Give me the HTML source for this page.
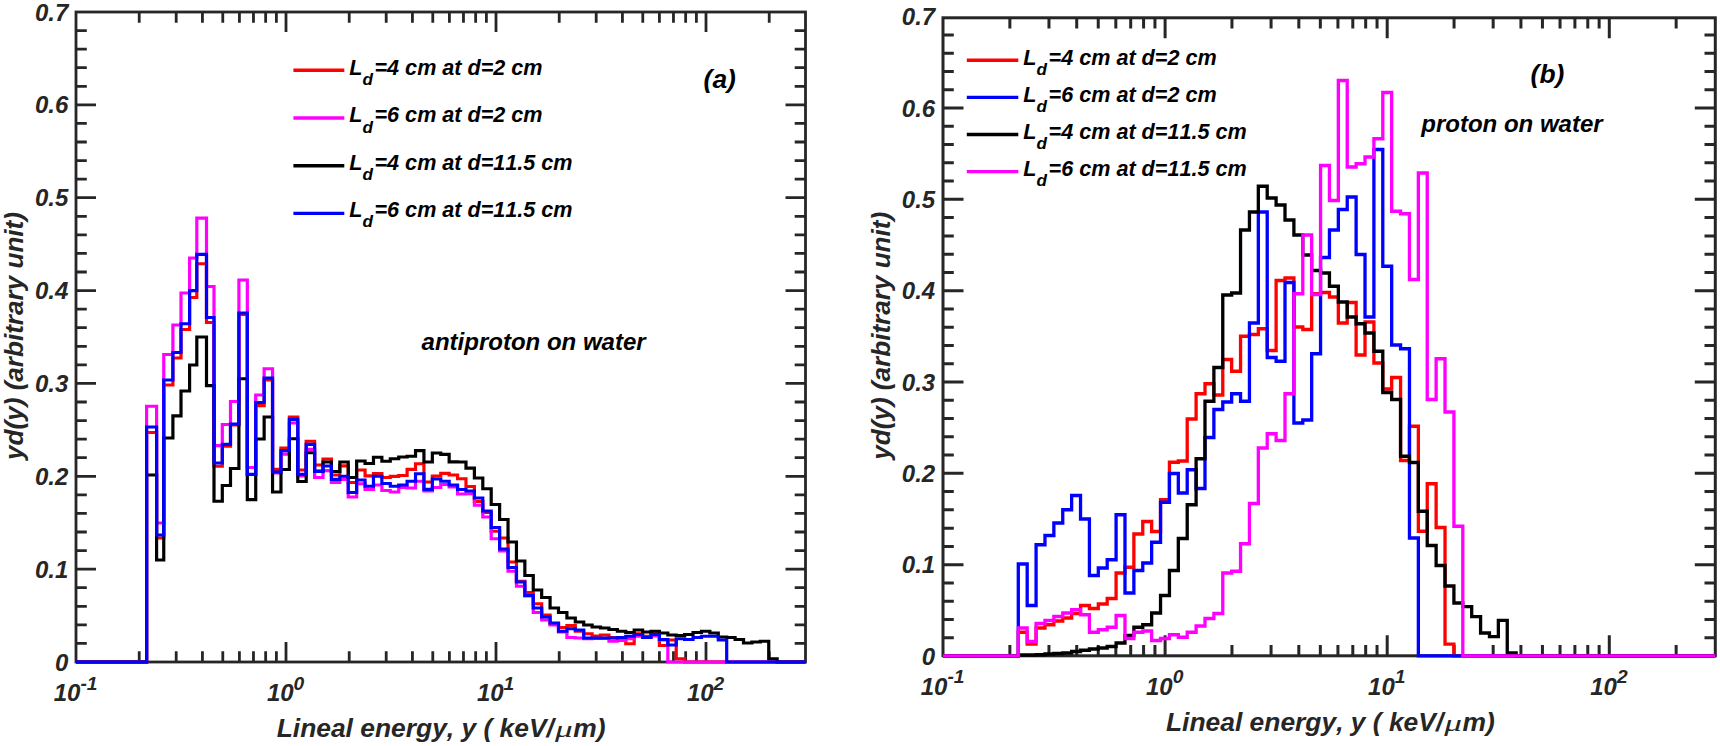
<!DOCTYPE html>
<html><head><meta charset="utf-8"><title>Lineal energy spectra</title>
<style>html,body{margin:0;padding:0;background:#fff}svg{display:block}text{font-family:"Liberation Sans", Arial, Helvetica, sans-serif;font-weight:bold;font-style:italic;font-kerning:none}</style></head><body>
<svg width="1720" height="746" viewBox="0 0 1720 746">
<rect width="1720" height="746" fill="#fff"/>
<rect x="76.00" y="12.00" width="729.50" height="650.00" fill="none" stroke="#262626" stroke-width="2.80"/>
<path d="M139.22 662.00v-10.80M139.22 12.00v10.80M176.20 662.00v-10.80M176.20 12.00v10.80M202.43 662.00v-10.80M202.43 12.00v10.80M222.78 662.00v-10.80M222.78 12.00v10.80M239.41 662.00v-10.80M239.41 12.00v10.80M253.47 662.00v-10.80M253.47 12.00v10.80M265.65 662.00v-10.80M265.65 12.00v10.80M276.39 662.00v-10.80M276.39 12.00v10.80M286.00 662.00v-20.00M286.00 12.00v20.00M349.22 662.00v-10.80M349.22 12.00v10.80M386.20 662.00v-10.80M386.20 12.00v10.80M412.43 662.00v-10.80M412.43 12.00v10.80M432.78 662.00v-10.80M432.78 12.00v10.80M449.41 662.00v-10.80M449.41 12.00v10.80M463.47 662.00v-10.80M463.47 12.00v10.80M475.65 662.00v-10.80M475.65 12.00v10.80M486.39 662.00v-10.80M486.39 12.00v10.80M496.00 662.00v-20.00M496.00 12.00v20.00M559.22 662.00v-10.80M559.22 12.00v10.80M596.20 662.00v-10.80M596.20 12.00v10.80M622.43 662.00v-10.80M622.43 12.00v10.80M642.78 662.00v-10.80M642.78 12.00v10.80M659.41 662.00v-10.80M659.41 12.00v10.80M673.47 662.00v-10.80M673.47 12.00v10.80M685.65 662.00v-10.80M685.65 12.00v10.80M696.39 662.00v-10.80M696.39 12.00v10.80M706.00 662.00v-20.00M706.00 12.00v20.00M769.22 662.00v-10.80M769.22 12.00v10.80M76.00 643.43h10.80M805.50 643.43h-10.80M76.00 624.86h10.80M805.50 624.86h-10.80M76.00 606.29h10.80M805.50 606.29h-10.80M76.00 587.71h10.80M805.50 587.71h-10.80M76.00 569.14h20.00M805.50 569.14h-20.00M76.00 550.57h10.80M805.50 550.57h-10.80M76.00 532.00h10.80M805.50 532.00h-10.80M76.00 513.43h10.80M805.50 513.43h-10.80M76.00 494.86h10.80M805.50 494.86h-10.80M76.00 476.29h20.00M805.50 476.29h-20.00M76.00 457.71h10.80M805.50 457.71h-10.80M76.00 439.14h10.80M805.50 439.14h-10.80M76.00 420.57h10.80M805.50 420.57h-10.80M76.00 402.00h10.80M805.50 402.00h-10.80M76.00 383.43h20.00M805.50 383.43h-20.00M76.00 364.86h10.80M805.50 364.86h-10.80M76.00 346.29h10.80M805.50 346.29h-10.80M76.00 327.71h10.80M805.50 327.71h-10.80M76.00 309.14h10.80M805.50 309.14h-10.80M76.00 290.57h20.00M805.50 290.57h-20.00M76.00 272.00h10.80M805.50 272.00h-10.80M76.00 253.43h10.80M805.50 253.43h-10.80M76.00 234.86h10.80M805.50 234.86h-10.80M76.00 216.29h10.80M805.50 216.29h-10.80M76.00 197.71h20.00M805.50 197.71h-20.00M76.00 179.14h10.80M805.50 179.14h-10.80M76.00 160.57h10.80M805.50 160.57h-10.80M76.00 142.00h10.80M805.50 142.00h-10.80M76.00 123.43h10.80M805.50 123.43h-10.80M76.00 104.86h20.00M805.50 104.86h-20.00M76.00 86.29h10.80M805.50 86.29h-10.80M76.00 67.71h10.80M805.50 67.71h-10.80M76.00 49.14h10.80M805.50 49.14h-10.80M76.00 30.57h10.80M805.50 30.57h-10.80" stroke="#262626" stroke-width="2.80" fill="none"/>
<polyline points="76.00,662.00 146.60,662.00 146.60,432.50 156.60,432.50 156.60,538.00 163.75,538.00 163.75,385.00 172.90,385.00 172.90,358.00 181.00,358.00 181.00,329.50 189.60,329.50 189.60,297.50 196.80,297.50 196.80,263.75 206.50,263.75 206.50,322.50 214.00,322.50 214.00,466.25 222.30,466.25 222.30,446.25 230.50,446.25 230.50,425.00 238.91,425.00 238.91,314.50 247.32,314.50 247.32,474.50 255.73,474.50 255.73,405.60 264.14,405.60 264.14,380.00 272.55,380.00 272.55,469.40 280.96,469.40 280.96,448.00 289.37,448.00 289.37,417.00 297.78,417.00 297.78,470.00 306.19,470.00 306.19,441.25 314.60,441.25 314.60,465.00 323.01,465.00 323.01,459.00 331.42,459.00 331.42,475.00 339.83,475.00 339.83,465.80 348.24,465.80 348.24,482.50 356.65,482.50 356.65,470.00 365.06,470.00 365.06,475.80 373.47,475.80 373.47,473.50 381.88,473.50 381.88,477.50 390.29,477.50 390.29,476.40 398.70,476.40 398.70,475.50 407.11,475.50 407.11,469.40 415.52,469.40 415.52,463.75 423.93,463.75 423.93,482.00 432.34,482.00 432.34,476.00 440.75,476.00 440.75,473.40 449.16,473.40 449.16,475.00 457.57,475.00 457.57,478.75 465.98,478.75 465.98,486.50 474.39,486.50 474.39,501.50 482.80,501.50 482.80,512.50 491.21,512.50 491.21,531.25 499.62,531.25 499.62,538.00 508.03,538.00 508.03,562.00 516.44,562.00 516.44,581.25 524.85,581.25 524.85,592.50 533.26,592.50 533.26,603.75 541.67,603.75 541.67,615.00 550.08,615.00 550.08,623.75 558.49,623.75 558.49,627.50 566.90,627.50 566.90,625.50 575.31,625.50 575.31,631.25 583.72,631.25 583.72,633.75 592.13,633.75 592.13,636.00 600.54,636.00 600.54,635.00 608.95,635.00 608.95,637.50 617.36,637.50 617.36,640.00 625.77,640.00 625.77,643.75 634.18,643.75 634.18,633.75 642.59,633.75 642.59,636.25 651.00,636.25 651.00,633.75 659.41,633.75 659.41,645.50 667.82,645.50 667.82,640.00 676.23,640.00 676.23,658.75 684.64,658.75 684.64,662.00 805.50,662.00" fill="none" stroke="#ff0000" stroke-width="3.20" stroke-linejoin="miter" stroke-linecap="butt"/>
<polyline points="76.00,662.00 146.60,662.00 146.60,406.25 156.60,406.25 156.60,523.00 163.75,523.00 163.75,354.50 172.90,354.50 172.90,325.00 181.00,325.00 181.00,293.00 189.60,293.00 189.60,258.00 196.80,258.00 196.80,218.10 206.50,218.10 206.50,286.50 214.00,286.50 214.00,445.60 222.30,445.60 222.30,424.50 230.50,424.50 230.50,401.50 238.91,401.50 238.91,280.00 247.32,280.00 247.32,467.50 255.73,467.50 255.73,395.00 264.14,395.00 264.14,368.75 272.55,368.75 272.55,473.00 280.96,473.00 280.96,454.20 289.37,454.20 289.37,423.00 297.78,423.00 297.78,476.00 306.19,476.00 306.19,449.40 314.60,449.40 314.60,477.50 323.01,477.50 323.01,470.60 331.42,470.60 331.42,482.50 339.83,482.50 339.83,479.40 348.24,479.40 348.24,497.00 356.65,497.00 356.65,483.75 365.06,483.75 365.06,489.40 373.47,489.40 373.47,485.00 381.88,485.00 381.88,490.50 390.29,490.50 390.29,492.00 398.70,492.00 398.70,487.50 407.11,487.50 407.11,488.00 415.52,488.00 415.52,481.25 423.93,481.25 423.93,491.00 432.34,491.00 432.34,487.50 440.75,487.50 440.75,484.50 449.16,484.50 449.16,487.00 457.57,487.00 457.57,494.00 465.98,494.00 465.98,493.75 474.39,493.75 474.39,505.25 482.80,505.25 482.80,517.00 491.21,517.00 491.21,538.75 499.62,538.75 499.62,551.00 508.03,551.00 508.03,571.25 516.44,571.25 516.44,586.25 524.85,586.25 524.85,596.00 533.26,596.00 533.26,612.50 541.67,612.50 541.67,620.00 550.08,620.00 550.08,625.00 558.49,625.00 558.49,632.00 566.90,632.00 566.90,637.50 575.31,637.50 575.31,638.00 583.72,638.00 583.72,638.75 592.13,638.75 592.13,638.50 600.54,638.50 600.54,638.50 608.95,638.50 608.95,641.25 617.36,641.25 617.36,640.50 625.77,640.50 625.77,638.75 634.18,638.75 634.18,636.25 642.59,636.25 642.59,637.50 651.00,637.50 651.00,636.00 659.41,636.00 659.41,640.00 667.82,640.00 667.82,662.00 805.50,662.00" fill="none" stroke="#ff00ff" stroke-width="3.20" stroke-linejoin="miter" stroke-linecap="butt"/>
<polyline points="76.00,662.00 146.60,662.00 146.60,475.00 156.60,475.00 156.60,560.00 163.75,560.00 163.75,438.00 172.90,438.00 172.90,415.80 181.00,415.80 181.00,391.00 189.60,391.00 189.60,365.00 196.80,365.00 196.80,337.00 206.50,337.00 206.50,385.60 214.00,385.60 214.00,501.25 222.30,501.25 222.30,485.50 230.50,485.50 230.50,468.50 238.91,468.50 238.91,378.75 247.32,378.75 247.32,499.60 255.73,499.60 255.73,439.00 264.14,439.00 264.14,417.00 272.55,417.00 272.55,492.00 280.96,492.00 280.96,469.50 289.37,469.50 289.37,438.75 297.78,438.75 297.78,481.50 306.19,481.50 306.19,452.75 314.60,452.75 314.60,471.00 323.01,471.00 323.01,462.00 331.42,462.00 331.42,471.50 339.83,471.50 339.83,462.00 348.24,462.00 348.24,477.50 356.65,477.50 356.65,461.00 365.06,461.00 365.06,463.50 373.47,463.50 373.47,457.25 381.88,457.25 381.88,461.25 390.29,461.25 390.29,458.75 398.70,458.75 398.70,457.00 407.11,457.00 407.11,456.25 415.52,456.25 415.52,450.60 423.93,450.60 423.93,462.00 432.34,462.00 432.34,453.00 440.75,453.00 440.75,454.40 449.16,454.40 449.16,461.90 457.57,461.90 457.57,462.00 465.98,462.00 465.98,468.20 474.39,468.20 474.39,478.00 482.80,478.00 482.80,488.75 491.21,488.75 491.21,504.50 499.62,504.50 499.62,519.50 508.03,519.50 508.03,542.00 516.44,542.00 516.44,561.00 524.85,561.00 524.85,575.50 533.26,575.50 533.26,590.00 541.67,590.00 541.67,597.50 550.08,597.50 550.08,608.00 558.49,608.00 558.49,612.50 566.90,612.50 566.90,618.00 575.31,618.00 575.31,622.00 583.72,622.00 583.72,625.00 592.13,625.00 592.13,627.00 600.54,627.00 600.54,628.00 608.95,628.00 608.95,629.50 617.36,629.50 617.36,631.25 625.77,631.25 625.77,632.50 634.18,632.50 634.18,630.00 642.59,630.00 642.59,632.00 651.00,632.00 651.00,631.25 659.41,631.25 659.41,633.00 667.82,633.00 667.82,635.00 676.23,635.00 676.23,635.50 684.64,635.50 684.64,634.50 693.05,634.50 693.05,632.50 701.46,632.50 701.46,631.25 709.87,631.25 709.87,633.00 718.28,633.00 718.28,637.00 726.69,637.00 726.69,637.50 735.10,637.50 735.10,639.50 743.51,639.50 743.51,643.00 751.92,643.00 751.92,642.00 760.33,642.00 760.33,641.25 768.74,641.25 768.74,658.75 777.15,658.75 777.15,662.00 805.50,662.00" fill="none" stroke="#000000" stroke-width="3.20" stroke-linejoin="miter" stroke-linecap="butt"/>
<polyline points="76.00,662.00 146.60,662.00 146.60,427.00 156.60,427.00 156.60,535.00 163.75,535.00 163.75,380.00 172.90,380.00 172.90,352.50 181.00,352.50 181.00,323.75 189.60,323.75 189.60,290.60 196.80,290.60 196.80,254.40 206.50,254.40 206.50,317.50 214.00,317.50 214.00,463.00 222.30,463.00 222.30,444.40 230.50,444.40 230.50,424.00 238.91,424.00 238.91,313.00 247.32,313.00 247.32,474.40 255.73,474.40 255.73,402.50 264.14,402.50 264.14,378.00 272.55,378.00 272.55,472.00 280.96,472.00 280.96,450.60 289.37,450.60 289.37,419.40 297.78,419.40 297.78,474.40 306.19,474.40 306.19,444.40 314.60,444.40 314.60,471.50 323.01,471.50 323.01,466.00 331.42,466.00 331.42,479.40 339.83,479.40 339.83,476.25 348.24,476.25 348.24,492.50 356.65,492.50 356.65,480.00 365.06,480.00 365.06,486.25 373.47,486.25 373.47,476.25 381.88,476.25 381.88,483.50 390.29,483.50 390.29,486.25 398.70,486.25 398.70,485.00 407.11,485.00 407.11,481.25 415.52,481.25 415.52,473.75 423.93,473.75 423.93,489.40 432.34,489.40 432.34,479.00 440.75,479.00 440.75,481.25 449.16,481.25 449.16,485.00 457.57,485.00 457.57,489.50 465.98,489.50 465.98,491.00 474.39,491.00 474.39,498.00 482.80,498.00 482.80,511.00 491.21,511.00 491.21,527.50 499.62,527.50 499.62,549.00 508.03,549.00 508.03,567.50 516.44,567.50 516.44,582.00 524.85,582.00 524.85,595.50 533.26,595.50 533.26,608.00 541.67,608.00 541.67,617.00 550.08,617.00 550.08,623.00 558.49,623.00 558.49,631.25 566.90,631.25 566.90,628.75 575.31,628.75 575.31,630.00 583.72,630.00 583.72,638.00 592.13,638.00 592.13,638.00 600.54,638.00 600.54,638.00 608.95,638.00 608.95,638.00 617.36,638.00 617.36,637.50 625.77,637.50 625.77,636.25 634.18,636.25 634.18,634.50 642.59,634.50 642.59,637.50 651.00,637.50 651.00,634.50 659.41,634.50 659.41,639.50 667.82,639.50 667.82,645.00 676.23,645.00 676.23,638.75 684.64,638.75 684.64,639.50 693.05,639.50 693.05,637.50 701.46,637.50 701.46,636.25 709.87,636.25 709.87,636.25 718.28,636.25 718.28,640.00 726.69,640.00 726.69,662.00 805.50,662.00" fill="none" stroke="#0000ff" stroke-width="3.20" stroke-linejoin="miter" stroke-linecap="butt"/>
<text x="68.40" y="670.60" font-size="24.0" text-anchor="end" fill="#262626">0</text>
<text x="68.40" y="577.74" font-size="24.0" text-anchor="end" fill="#262626">0.1</text>
<text x="68.40" y="484.89" font-size="24.0" text-anchor="end" fill="#262626">0.2</text>
<text x="68.40" y="392.03" font-size="24.0" text-anchor="end" fill="#262626">0.3</text>
<text x="68.40" y="299.17" font-size="24.0" text-anchor="end" fill="#262626">0.4</text>
<text x="68.40" y="206.31" font-size="24.0" text-anchor="end" fill="#262626">0.5</text>
<text x="68.40" y="113.46" font-size="24.0" text-anchor="end" fill="#262626">0.6</text>
<text x="68.40" y="20.60" font-size="24.0" text-anchor="end" fill="#262626">0.7</text>
<text x="53.72" y="701.30" font-size="24.0" fill="#262626">10<tspan font-size="19.2" dy="-11.7">-1</tspan></text>
<text x="266.92" y="701.30" font-size="24.0" fill="#262626">10<tspan font-size="19.2" dy="-11.7">0</tspan></text>
<text x="476.92" y="701.30" font-size="24.0" fill="#262626">10<tspan font-size="19.2" dy="-11.7">1</tspan></text>
<text x="686.92" y="701.30" font-size="24.0" fill="#262626">10<tspan font-size="19.2" dy="-11.7">2</tspan></text>
<text x="276.70" y="736.90" font-size="26.4" fill="#262626">Lineal energy, y ( keV/</text>
<text transform="translate(555.00 736.90) scale(1.5 1)" style="font-family:'Liberation Serif','DejaVu Serif',serif;font-weight:normal" font-size="23.5" fill="#262626">μ</text>
<text x="573.30" y="736.90" font-size="26.4" fill="#262626">m)</text>
<text transform="translate(23.00 336.00) rotate(-90)" font-size="26.1" text-anchor="middle" fill="#262626">yd(y) (arbitrary unit)</text>
<rect x="943.00" y="17.80" width="772.30" height="638.00" fill="none" stroke="#262626" stroke-width="3.00"/>
<path d="M1009.86 655.80v-10.80M1009.86 17.80v10.80M1048.97 655.80v-10.80M1048.97 17.80v10.80M1076.72 655.80v-10.80M1076.72 17.80v10.80M1098.24 655.80v-10.80M1098.24 17.80v10.80M1115.83 655.80v-10.80M1115.83 17.80v10.80M1130.70 655.80v-10.80M1130.70 17.80v10.80M1143.58 655.80v-10.80M1143.58 17.80v10.80M1154.94 655.80v-10.80M1154.94 17.80v10.80M1165.10 655.80v-20.50M1165.10 17.80v20.50M1231.96 655.80v-10.80M1231.96 17.80v10.80M1271.07 655.80v-10.80M1271.07 17.80v10.80M1298.82 655.80v-10.80M1298.82 17.80v10.80M1320.34 655.80v-10.80M1320.34 17.80v10.80M1337.93 655.80v-10.80M1337.93 17.80v10.80M1352.80 655.80v-10.80M1352.80 17.80v10.80M1365.68 655.80v-10.80M1365.68 17.80v10.80M1377.04 655.80v-10.80M1377.04 17.80v10.80M1387.20 655.80v-20.50M1387.20 17.80v20.50M1454.06 655.80v-10.80M1454.06 17.80v10.80M1493.17 655.80v-10.80M1493.17 17.80v10.80M1520.92 655.80v-10.80M1520.92 17.80v10.80M1542.44 655.80v-10.80M1542.44 17.80v10.80M1560.03 655.80v-10.80M1560.03 17.80v10.80M1574.90 655.80v-10.80M1574.90 17.80v10.80M1587.78 655.80v-10.80M1587.78 17.80v10.80M1599.14 655.80v-10.80M1599.14 17.80v10.80M1609.30 655.80v-20.50M1609.30 17.80v20.50M1676.16 655.80v-10.80M1676.16 17.80v10.80M943.00 637.73h10.80M1715.30 637.73h-10.80M943.00 619.47h10.80M1715.30 619.47h-10.80M943.00 601.20h10.80M1715.30 601.20h-10.80M943.00 582.94h10.80M1715.30 582.94h-10.80M943.00 564.67h20.50M1715.30 564.67h-20.50M943.00 546.40h10.80M1715.30 546.40h-10.80M943.00 528.14h10.80M1715.30 528.14h-10.80M943.00 509.87h10.80M1715.30 509.87h-10.80M943.00 491.61h10.80M1715.30 491.61h-10.80M943.00 473.34h20.50M1715.30 473.34h-20.50M943.00 455.07h10.80M1715.30 455.07h-10.80M943.00 436.81h10.80M1715.30 436.81h-10.80M943.00 418.54h10.80M1715.30 418.54h-10.80M943.00 400.28h10.80M1715.30 400.28h-10.80M943.00 382.01h20.50M1715.30 382.01h-20.50M943.00 363.74h10.80M1715.30 363.74h-10.80M943.00 345.48h10.80M1715.30 345.48h-10.80M943.00 327.21h10.80M1715.30 327.21h-10.80M943.00 308.95h10.80M1715.30 308.95h-10.80M943.00 290.68h20.50M1715.30 290.68h-20.50M943.00 272.41h10.80M1715.30 272.41h-10.80M943.00 254.15h10.80M1715.30 254.15h-10.80M943.00 235.88h10.80M1715.30 235.88h-10.80M943.00 217.62h10.80M1715.30 217.62h-10.80M943.00 199.35h20.50M1715.30 199.35h-20.50M943.00 181.08h10.80M1715.30 181.08h-10.80M943.00 162.82h10.80M1715.30 162.82h-10.80M943.00 144.55h10.80M1715.30 144.55h-10.80M943.00 126.29h10.80M1715.30 126.29h-10.80M943.00 108.02h20.50M1715.30 108.02h-20.50M943.00 89.75h10.80M1715.30 89.75h-10.80M943.00 71.49h10.80M1715.30 71.49h-10.80M943.00 53.22h10.80M1715.30 53.22h-10.80M943.00 34.96h10.80M1715.30 34.96h-10.80" stroke="#262626" stroke-width="3.00" fill="none"/>
<polyline points="943.00,655.80 1018.30,655.80 1018.30,632.25 1027.19,632.25 1027.19,644.00 1036.08,644.00 1036.08,628.00 1044.97,628.00 1044.97,624.75 1053.86,624.75 1053.86,621.00 1062.75,621.00 1062.75,618.00 1071.64,618.00 1071.64,613.50 1080.53,613.50 1080.53,605.50 1089.42,605.50 1089.42,608.50 1098.31,608.50 1098.31,604.00 1107.20,604.00 1107.20,598.50 1116.09,598.50 1116.09,573.00 1124.98,573.00 1124.98,567.25 1133.87,567.25 1133.87,534.00 1142.76,534.00 1142.76,521.50 1151.65,521.50 1151.65,531.50 1160.54,531.50 1160.54,499.75 1169.43,499.75 1169.43,462.25 1178.32,462.25 1178.32,461.00 1187.21,461.00 1187.21,419.00 1196.10,419.00 1196.10,393.75 1204.99,393.75 1204.99,383.75 1213.88,383.75 1213.88,395.00 1222.77,395.00 1222.77,359.50 1231.66,359.50 1231.66,371.25 1240.55,371.25 1240.55,336.25 1249.44,336.25 1249.44,334.50 1258.33,334.50 1258.33,328.75 1267.22,328.75 1267.22,350.50 1276.11,350.50 1276.11,280.50 1285.00,280.50 1285.00,278.00 1293.89,278.00 1293.89,327.00 1302.78,327.00 1302.78,329.50 1311.67,329.50 1311.67,293.75 1320.56,293.75 1320.56,292.50 1329.45,292.50 1329.45,297.00 1338.34,297.00 1338.34,323.00 1347.23,323.00 1347.23,302.50 1356.12,302.50 1356.12,355.00 1365.01,355.00 1365.01,322.00 1373.90,322.00 1373.90,363.00 1382.79,363.00 1382.79,389.00 1391.68,389.00 1391.68,377.50 1400.57,377.50 1400.57,460.50 1409.46,460.50 1409.46,426.25 1418.35,426.25 1418.35,531.25 1427.24,531.25 1427.24,483.75 1436.13,483.75 1436.13,527.50 1445.02,527.50 1445.02,644.10 1453.91,644.10 1453.91,655.80 1715.30,655.80" fill="none" stroke="#ff0000" stroke-width="3.30" stroke-linejoin="miter" stroke-linecap="butt"/>
<polyline points="943.00,655.80 1018.30,655.80 1018.30,564.00 1027.19,564.00 1027.19,605.50 1036.08,605.50 1036.08,544.75 1044.97,544.75 1044.97,535.50 1053.86,535.50 1053.86,523.00 1062.75,523.00 1062.75,509.75 1071.64,509.75 1071.64,495.50 1080.53,495.50 1080.53,519.00 1089.42,519.00 1089.42,575.50 1098.31,575.50 1098.31,568.00 1107.20,568.00 1107.20,559.75 1116.09,559.75 1116.09,514.75 1124.98,514.75 1124.98,593.00 1133.87,593.00 1133.87,570.50 1142.76,570.50 1142.76,563.00 1151.65,563.00 1151.65,542.25 1160.54,542.25 1160.54,502.25 1169.43,502.25 1169.43,473.50 1178.32,473.50 1178.32,493.00 1187.21,493.00 1187.21,469.75 1196.10,469.75 1196.10,488.50 1204.99,488.50 1204.99,437.50 1213.88,437.50 1213.88,409.50 1222.77,409.50 1222.77,402.00 1231.66,402.00 1231.66,393.75 1240.55,393.75 1240.55,401.25 1249.44,401.25 1249.44,323.00 1258.33,323.00 1258.33,212.00 1267.22,212.00 1267.22,357.50 1276.11,357.50 1276.11,361.25 1285.00,361.25 1285.00,282.50 1293.89,282.50 1293.89,423.00 1302.78,423.00 1302.78,420.00 1311.67,420.00 1311.67,353.75 1320.56,353.75 1320.56,257.50 1329.45,257.50 1329.45,230.00 1338.34,230.00 1338.34,209.50 1347.23,209.50 1347.23,197.00 1356.12,197.00 1356.12,254.50 1365.01,254.50 1365.01,317.00 1373.90,317.00 1373.90,149.50 1382.79,149.50 1382.79,266.25 1391.68,266.25 1391.68,345.00 1400.57,345.00 1400.57,348.75 1409.46,348.75 1409.46,538.00 1418.35,538.00 1418.35,655.80 1715.30,655.80" fill="none" stroke="#0000ff" stroke-width="3.30" stroke-linejoin="miter" stroke-linecap="butt"/>
<polyline points="943.00,655.80 1018.30,655.80 1018.30,655.00 1027.19,655.00 1027.19,655.00 1036.08,655.00 1036.08,654.75 1044.97,654.75 1044.97,654.00 1053.86,654.00 1053.86,653.50 1062.75,653.50 1062.75,653.00 1071.64,653.00 1071.64,651.50 1080.53,651.50 1080.53,650.25 1089.42,650.25 1089.42,649.00 1098.31,649.00 1098.31,648.00 1107.20,648.00 1107.20,646.50 1116.09,646.50 1116.09,643.00 1124.98,643.00 1124.98,635.50 1133.87,635.50 1133.87,627.25 1142.76,627.25 1142.76,624.75 1151.65,624.75 1151.65,613.00 1160.54,613.00 1160.54,595.50 1169.43,595.50 1169.43,570.50 1178.32,570.50 1178.32,538.50 1187.21,538.50 1187.21,504.75 1196.10,504.75 1196.10,458.75 1204.99,458.75 1204.99,401.25 1213.88,401.25 1213.88,367.50 1222.77,367.50 1222.77,295.00 1231.66,295.00 1231.66,293.00 1240.55,293.00 1240.55,230.00 1249.44,230.00 1249.44,212.00 1258.33,212.00 1258.33,186.25 1267.22,186.25 1267.22,198.00 1276.11,198.00 1276.11,205.00 1285.00,205.00 1285.00,220.00 1293.89,220.00 1293.89,235.00 1302.78,235.00 1302.78,255.00 1311.67,255.00 1311.67,270.50 1320.56,270.50 1320.56,273.00 1329.45,273.00 1329.45,286.25 1338.34,286.25 1338.34,302.00 1347.23,302.00 1347.23,317.00 1356.12,317.00 1356.12,323.75 1365.01,323.75 1365.01,333.00 1373.90,333.00 1373.90,351.25 1382.79,351.25 1382.79,392.50 1391.68,392.50 1391.68,399.50 1400.57,399.50 1400.57,456.25 1409.46,456.25 1409.46,462.50 1418.35,462.50 1418.35,511.25 1427.24,511.25 1427.24,545.50 1436.13,545.50 1436.13,565.50 1445.02,565.50 1445.02,586.00 1453.91,586.00 1453.91,603.00 1462.80,603.00 1462.80,606.60 1471.69,606.60 1471.69,616.60 1480.58,616.60 1480.58,633.00 1489.47,633.00 1489.47,636.60 1498.36,636.60 1498.36,620.40 1507.25,620.40 1507.25,653.00 1516.14,653.00 1516.14,655.80 1715.30,655.80" fill="none" stroke="#000000" stroke-width="3.30" stroke-linejoin="miter" stroke-linecap="butt"/>
<polyline points="943.00,655.80 1018.30,655.80 1018.30,628.00 1027.19,628.00 1027.19,641.50 1036.08,641.50 1036.08,623.50 1044.97,623.50 1044.97,620.50 1053.86,620.50 1053.86,616.50 1062.75,616.50 1062.75,613.00 1071.64,613.00 1071.64,609.75 1080.53,609.75 1080.53,614.75 1089.42,614.75 1089.42,632.25 1098.31,632.25 1098.31,629.75 1107.20,629.75 1107.20,627.25 1116.09,627.25 1116.09,615.50 1124.98,615.50 1124.98,638.50 1133.87,638.50 1133.87,632.25 1142.76,632.25 1142.76,631.00 1151.65,631.00 1151.65,640.50 1160.54,640.50 1160.54,638.50 1169.43,638.50 1169.43,634.75 1178.32,634.75 1178.32,637.25 1187.21,637.25 1187.21,632.25 1196.10,632.25 1196.10,626.00 1204.99,626.00 1204.99,618.50 1213.88,618.50 1213.88,613.50 1222.77,613.50 1222.77,573.00 1231.66,573.00 1231.66,571.25 1240.55,571.25 1240.55,543.75 1249.44,543.75 1249.44,503.50 1258.33,503.50 1258.33,448.00 1267.22,448.00 1267.22,433.75 1276.11,433.75 1276.11,440.50 1285.00,440.50 1285.00,393.75 1293.89,393.75 1293.89,293.75 1302.78,293.75 1302.78,235.00 1311.67,235.00 1311.67,294.50 1320.56,294.50 1320.56,165.50 1329.45,165.50 1329.45,200.50 1338.34,200.50 1338.34,80.50 1347.23,80.50 1347.23,167.00 1356.12,167.00 1356.12,163.75 1365.01,163.75 1365.01,157.00 1373.90,157.00 1373.90,138.75 1382.79,138.75 1382.79,92.50 1391.68,92.50 1391.68,211.25 1400.57,211.25 1400.57,213.75 1409.46,213.75 1409.46,279.50 1418.35,279.50 1418.35,173.00 1427.24,173.00 1427.24,399.50 1436.13,399.50 1436.13,358.75 1445.02,358.75 1445.02,412.00 1453.91,412.00 1453.91,526.25 1462.80,526.25 1462.80,655.80 1715.30,655.80" fill="none" stroke="#ff00ff" stroke-width="3.30" stroke-linejoin="miter" stroke-linecap="butt"/>
<text x="935.20" y="664.60" font-size="24.0" text-anchor="end" fill="#262626">0</text>
<text x="935.20" y="573.27" font-size="24.0" text-anchor="end" fill="#262626">0.1</text>
<text x="935.20" y="481.94" font-size="24.0" text-anchor="end" fill="#262626">0.2</text>
<text x="935.20" y="390.61" font-size="24.0" text-anchor="end" fill="#262626">0.3</text>
<text x="935.20" y="299.28" font-size="24.0" text-anchor="end" fill="#262626">0.4</text>
<text x="935.20" y="207.95" font-size="24.0" text-anchor="end" fill="#262626">0.5</text>
<text x="935.20" y="116.62" font-size="24.0" text-anchor="end" fill="#262626">0.6</text>
<text x="935.20" y="25.29" font-size="24.0" text-anchor="end" fill="#262626">0.7</text>
<text x="920.72" y="695.10" font-size="24.0" fill="#262626">10<tspan font-size="19.2" dy="-11.7">-1</tspan></text>
<text x="1146.02" y="695.10" font-size="24.0" fill="#262626">10<tspan font-size="19.2" dy="-11.7">0</tspan></text>
<text x="1368.12" y="695.10" font-size="24.0" fill="#262626">10<tspan font-size="19.2" dy="-11.7">1</tspan></text>
<text x="1590.22" y="695.10" font-size="24.0" fill="#262626">10<tspan font-size="19.2" dy="-11.7">2</tspan></text>
<text x="1166.00" y="730.70" font-size="26.4" fill="#262626">Lineal energy, y ( keV/</text>
<text transform="translate(1444.30 730.70) scale(1.5 1)" style="font-family:'Liberation Serif','DejaVu Serif',serif;font-weight:normal" font-size="23.5" fill="#262626">μ</text>
<text x="1462.60" y="730.70" font-size="26.4" fill="#262626">m)</text>
<text transform="translate(890.00 335.80) rotate(-90)" font-size="26.1" text-anchor="middle" fill="#262626">yd(y) (arbitrary unit)</text>
<line x1="293.40" y1="70.30" x2="344.30" y2="70.30" stroke="#ff0000" stroke-width="3.4"/>
<text x="349.20" y="74.80" font-size="21.6" fill="#000">L<tspan font-size="17.1" dy="10.3">d</tspan><tspan x="374.50" y="74.80">=4 cm at d=2 cm</tspan></text>
<line x1="293.40" y1="118.00" x2="344.30" y2="118.00" stroke="#ff00ff" stroke-width="3.4"/>
<text x="349.20" y="122.20" font-size="21.6" fill="#000">L<tspan font-size="17.1" dy="10.3">d</tspan><tspan x="374.50" y="122.20">=6 cm at d=2 cm</tspan></text>
<line x1="293.40" y1="165.70" x2="344.30" y2="165.70" stroke="#000000" stroke-width="3.4"/>
<text x="349.20" y="169.60" font-size="21.6" fill="#000">L<tspan font-size="17.1" dy="10.3">d</tspan><tspan x="374.50" y="169.60">=4 cm at d=11.5 cm</tspan></text>
<line x1="293.40" y1="213.40" x2="344.30" y2="213.40" stroke="#0000ff" stroke-width="3.4"/>
<text x="349.20" y="217.00" font-size="21.6" fill="#000">L<tspan font-size="17.1" dy="10.3">d</tspan><tspan x="374.50" y="217.00">=6 cm at d=11.5 cm</tspan></text>
<line x1="966.80" y1="60.30" x2="1018.30" y2="60.30" stroke="#ff0000" stroke-width="3.4"/>
<text x="1023.30" y="64.75" font-size="21.6" fill="#000">L<tspan font-size="17.1" dy="10.3">d</tspan><tspan x="1048.60" y="64.75">=4 cm at d=2 cm</tspan></text>
<line x1="966.80" y1="97.40" x2="1018.30" y2="97.40" stroke="#0000ff" stroke-width="3.4"/>
<text x="1023.30" y="101.85" font-size="21.6" fill="#000">L<tspan font-size="17.1" dy="10.3">d</tspan><tspan x="1048.60" y="101.85">=6 cm at d=2 cm</tspan></text>
<line x1="966.80" y1="134.50" x2="1018.30" y2="134.50" stroke="#000000" stroke-width="3.4"/>
<text x="1023.30" y="138.95" font-size="21.6" fill="#000">L<tspan font-size="17.1" dy="10.3">d</tspan><tspan x="1048.60" y="138.95">=4 cm at d=11.5 cm</tspan></text>
<line x1="966.80" y1="171.60" x2="1018.30" y2="171.60" stroke="#ff00ff" stroke-width="3.4"/>
<text x="1023.30" y="176.05" font-size="21.6" fill="#000">L<tspan font-size="17.1" dy="10.3">d</tspan><tspan x="1048.60" y="176.05">=6 cm at d=11.5 cm</tspan></text>
<text x="703.6" y="87.65" font-size="26.4" fill="#000">(a)</text>
<text x="1530.6" y="82.7" font-size="26.4" fill="#000">(b)</text>
<text x="421.6" y="350.2" font-size="24" fill="#000">antiproton on water</text>
<text x="1421.3" y="131.7" font-size="24" fill="#000">proton on water</text>
</svg></body></html>
